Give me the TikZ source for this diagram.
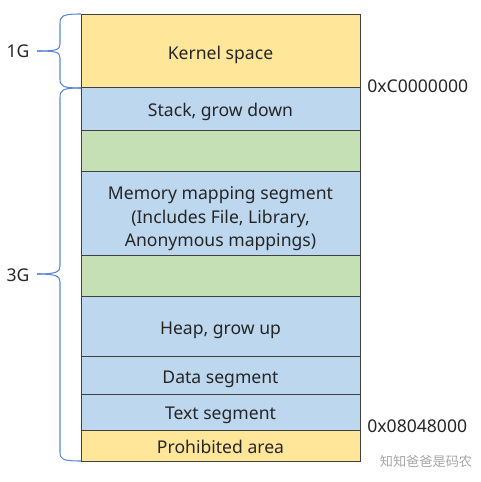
\documentclass[tikz,border=0pt]{standalone}
\usepackage{fontspec}
\setmainfont{Noto Sans}
\newfontfamily\cjkfont{Noto Sans CJK SC}
\usepackage{xcolor}
\usetikzlibrary{calc,positioning}
\definecolor{kernyellow}{HTML}{FFE699}
\definecolor{segblue}{HTML}{BDD7EE}
\definecolor{gapgreen}{HTML}{C5E0B4}
\definecolor{bracecol}{HTML}{5B87D6}
\definecolor{txtcol}{HTML}{262626}

\begin{document}
\begin{tikzpicture}[x=0.02cm,y=-0.02cm,
	seg/.style={fill=#1, draw=black!75, line width=0.5pt},
	lbl/.style={text=txtcol, font=\fontsize{10}{13.6}\selectfont, align=center, inner sep=0pt, anchor=base},
	brc/.style={draw=bracecol, line width=0.6pt}]
	\useasboundingbox (0,0) rectangle (480,482);
	\filldraw[seg=kernyellow] (81, 14) rectangle (360, 87.5);
	\filldraw[seg=segblue] (81, 87.5) rectangle (360,130);
	\filldraw[seg=gapgreen] (81,130) rectangle (360,171.7);
	\filldraw[seg=segblue] (81,171.7) rectangle (360,255);
	\filldraw[seg=gapgreen] (81,255) rectangle (360,296.7);
	\filldraw[seg=segblue] (81,296.7) rectangle (360,356.7);
	\filldraw[seg=segblue] (81,356.7) rectangle (360,394);
	\filldraw[seg=segblue] (81,394) rectangle (360,430.7);
	\filldraw[seg=kernyellow] (81,430.7) rectangle (360,461);
	\draw (220.5, 59.5) node[lbl] (kernel) {Kernel space} ;
	\draw (220.5,116.5) node[lbl] (stack) {Stack, grow down} ;
	\draw (220.5,247) node[lbl] (mmap) {Memory mapping segment\\(Includes File, Library,\\Anonymous mappings)} ;
	\draw (220.5,334) node[lbl] (heap) {Heap, grow up} ;
	\draw (220.5,383) node[lbl] (data) {Data segment} ;
	\draw (220.5,419) node[lbl] (text) {Text segment} ;
	\draw (220.5,453) node[lbl] (prohib) {Prohibited area} ;
	\draw (367, 93) node[lbl,anchor=base west] (kaddr) {0xC0000000} ;
	\draw (367,432.5) node[lbl,anchor=base west] (taddr) {0x08048000} ;
	% braces
	\draw[brc] (81,14) .. controls (62,14) and (60,16) .. (60,24) -- (60,44)
		.. controls (60,50) and (56,51) .. (37,51);
	\draw[brc] (37,51) .. controls (56,51) and (60,52) .. (60,58) -- (60,79)
		.. controls (60,86) and (62,88) .. (81,88);
	\draw[brc] (81,88) .. controls (62,88) and (60,90) .. (60,98) -- (60,266)
		.. controls (60,272) and (56,274) .. (37,274);
	\draw[brc] (37,274) .. controls (56,274) and (60,276) .. (60,282) -- (60,452)
		.. controls (60,459) and (62,461) .. (81,461);
	\draw (18, 57.5) node[lbl] (oneg) {1G} ;
	\draw (18,281) node[lbl] (threeg) {3G} ;
	\draw (426,461) node[lbl,anchor=center,text=black!35,font=\cjkfont\fontsize{7.5}{9}\selectfont] (mark) {知知爸爸是码农} ;
\end{tikzpicture}
\end{document}
